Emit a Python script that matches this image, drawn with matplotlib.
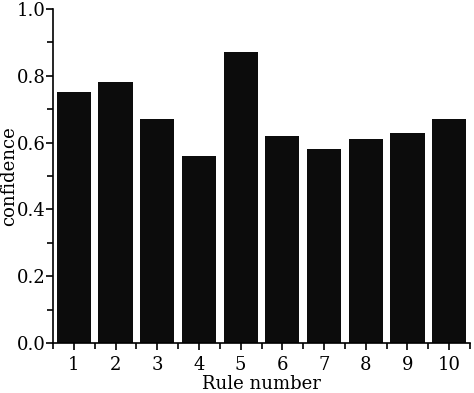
import matplotlib.pyplot as plt
from matplotlib.ticker import MultipleLocator

rules = [1, 2, 3, 4, 5, 6, 7, 8, 9, 10]
confidence = [0.75, 0.78, 0.67, 0.56, 0.87, 0.62, 0.58, 0.61, 0.63, 0.67]

plt.rcParams['font.family'] = ['DejaVu Serif']

fig = plt.figure(figsize=(4.74, 3.93), dpi=100)
ax = fig.add_axes([53 / 474, 1 - 343 / 393, (470 - 53) / 474, (343 - 9) / 393])

ax.bar(rules, confidence, width=0.82, color='#0c0c0c')

ax.set_xlim(0.5, 10.5)
ax.set_ylim(0, 1.0)
ax.set_xticks(rules)
ax.xaxis.set_minor_locator(MultipleLocator(1, offset=0.5))
ax.yaxis.set_major_locator(MultipleLocator(0.2))
ax.yaxis.set_minor_locator(MultipleLocator(0.1))
ax.yaxis.set_major_formatter(lambda v, p: f'{v:.1f}')

for s in ['top', 'right']:
    ax.spines[s].set_visible(False)
ax.spines['left'].set_linewidth(1.2)
ax.spines['bottom'].set_linewidth(1.2)

ax.tick_params(axis='both', which='major', length=5, width=1.2, labelsize=13, direction='out')
ax.tick_params(axis='both', which='minor', length=4, width=1.2, direction='out')
ax.tick_params(axis='x', pad=4)
ax.tick_params(axis='y', pad=0)

ax.set_xlabel('Rule number', fontsize=13, labelpad=1)
ax.set_ylabel('confidence', fontsize=13)
ax.yaxis.set_label_coords((18 - 53) / 417, 0.5)

fig.savefig('out.png', dpi=100)
